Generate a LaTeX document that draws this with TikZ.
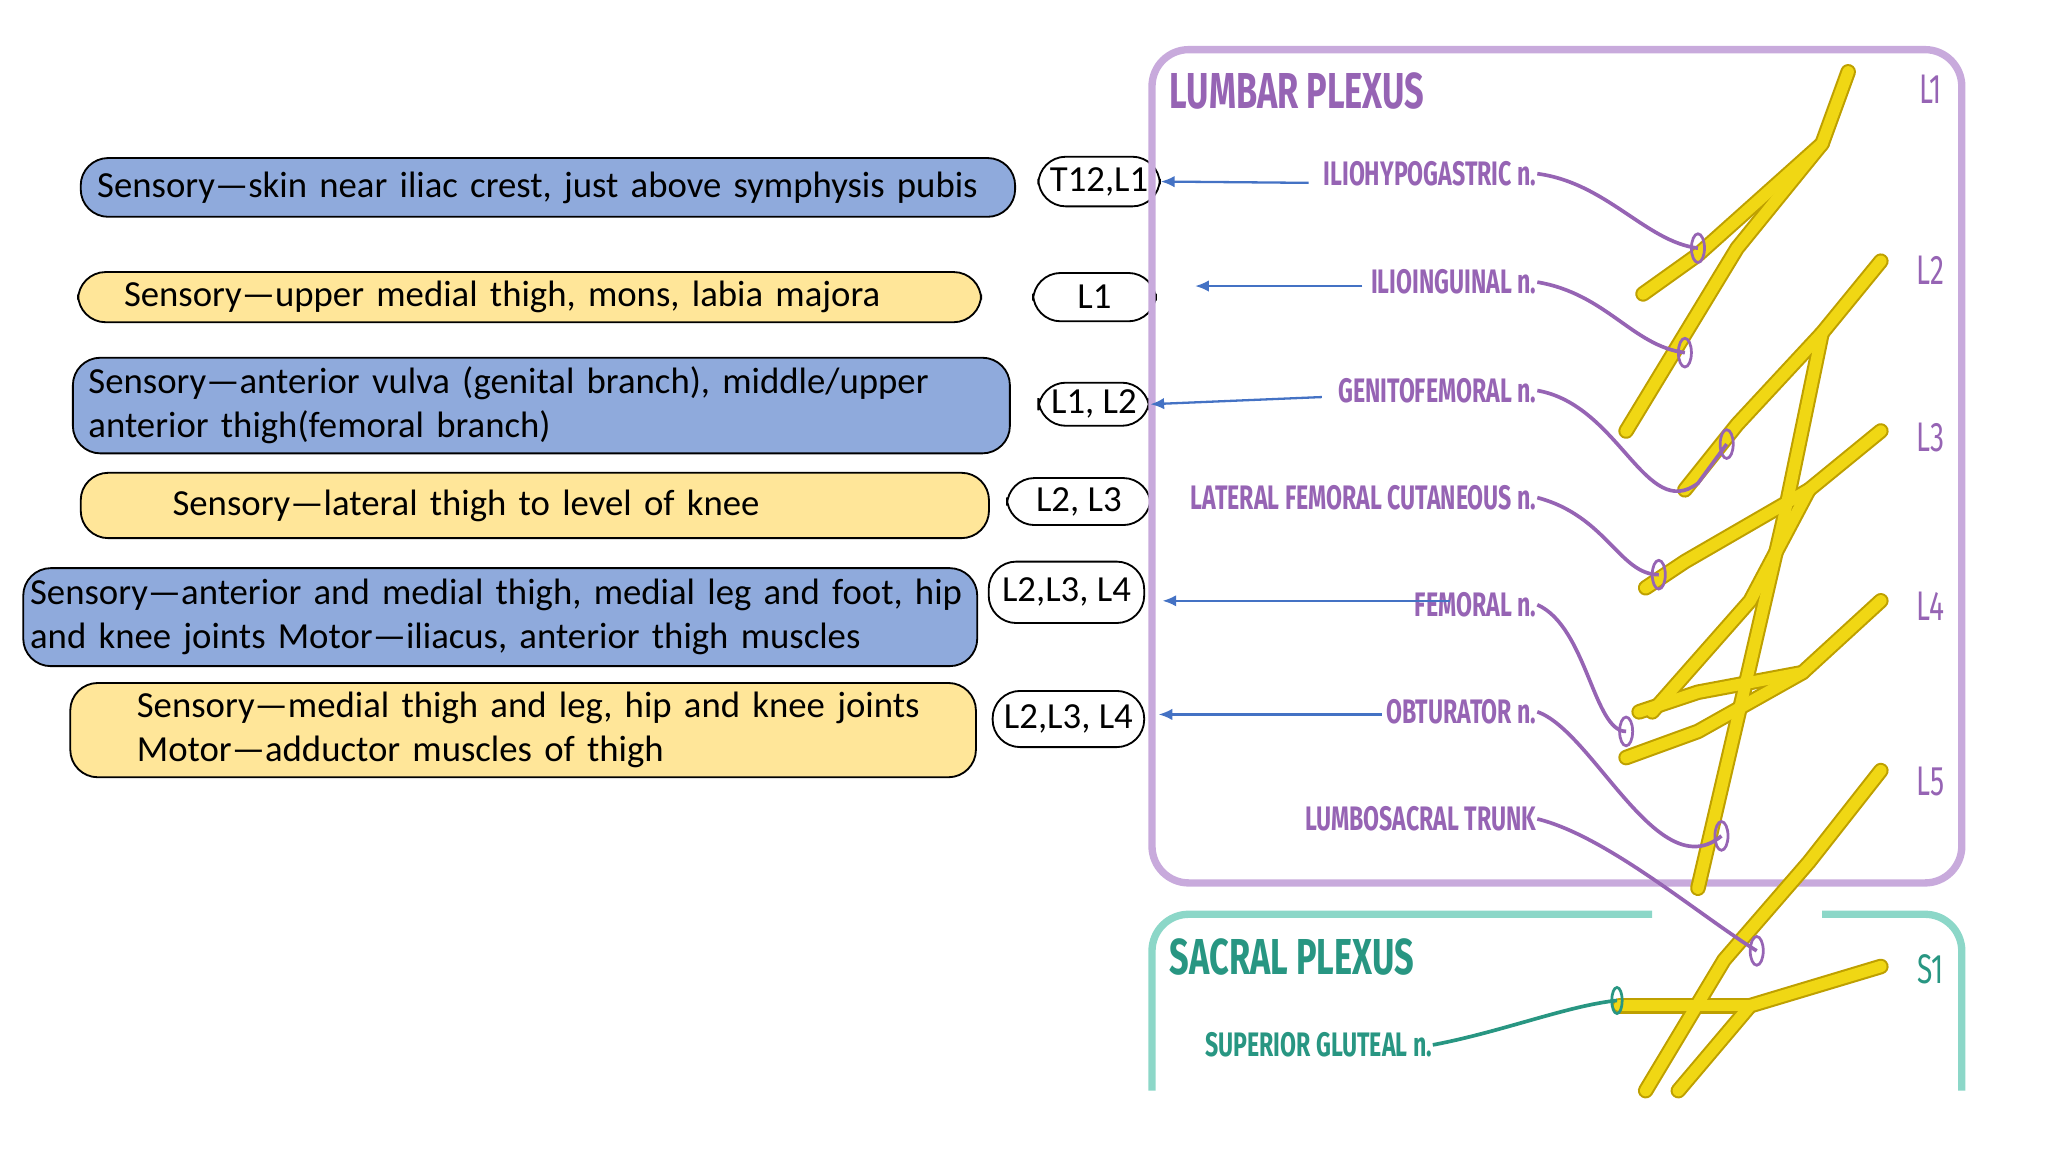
\documentclass[tikz,border=0pt]{standalone}
\usepackage{fontspec}
\setmainfont{Carlito}
\newfontfamily\lblfont[FakeStretch=0.68]{Fira Sans}
\usepackage{tikz}
\usetikzlibrary{arrows.meta}

\definecolor{boxblue}{RGB}{143,170,220}
\definecolor{boxyellow}{RGB}{255,230,153}
\definecolor{plexpurple}{RGB}{150,100,180}
\definecolor{plexframe}{RGB}{200,170,220}
\definecolor{sacteal}{RGB}{40,150,130}
\definecolor{sacframe}{RGB}{140,215,200}
\definecolor{nerve}{RGB}{240,215,20}
\definecolor{nerveedge}{RGB}{190,160,0}
\definecolor{arrowblue}{RGB}{68,114,196}

\tikzset{
  info/.style={draw=black, rounded corners=6pt, inner xsep=0pt, inner ysep=2pt, font=\fontsize{8}{9.6}\selectfont, align=left,
    execute at begin node={\hyphenpenalty=10000}},
  level/.style={draw=black, rounded corners=6pt, font=\fontsize{8}{9.6}\selectfont, inner sep=1pt},
  plexlbl/.style={text=plexpurple, font=\lblfont\bfseries\fontsize{7.4}{8}\selectfont, inner sep=0pt},
  leader/.style={draw=plexpurple, line width=0.8pt},
  point/.style={-{Latex[length=3pt,width=2.5pt]}, draw=arrowblue, line width=0.5pt},
  nerveout/.style={draw=nerveedge, line width=3.4pt, line cap=round, line join=round},
  nervein/.style={draw=nerve, line width=2.5pt, line cap=round, line join=round},
}

\begin{document}
\begin{tikzpicture}[x=0.01cm, y=-0.01cm]
\useasboundingbox (0,0) rectangle (1568,882);

% Info boxes
\node[info, fill=boxblue, minimum height=0.45cm, text width=7.15cm] (s1) at (419.5,143.5) {\hspace*{3.6pt}Sensory---skin near iliac crest, just above symphysis pubis};
\node[info, fill=boxyellow, minimum height=0.33cm, text width=6.91cm] (s2) at (405.5,227.5) {\hspace*{10pt}Sensory---upper medial thigh, mons, labia majora};
\node[info, fill=boxblue, minimum height=0.65cm, text width=7.17cm] (s3) at (414.5,310.5) {\hspace*{3.4pt}Sensory---anterior vulva (genital branch), middle/upper\\\hspace*{3.4pt}anterior thigh(femoral branch)};
\node[info, fill=boxyellow, minimum height=0.5cm, text width=6.95cm] (s4) at (409.5,387) {\hspace*{20pt}Sensory---lateral thigh to level of knee};
\node[info, fill=boxblue, minimum height=0.75cm, text width=7.3cm] (s5) at (383,472.5) {\hspace*{1.5pt}Sensory---anterior and medial thigh, medial leg and foot, hip\\\hspace*{1.5pt}and knee joints Motor---iliacus, anterior thigh muscles};
\node[info, fill=boxyellow, minimum height=0.68cm, text width=6.93cm] (s6) at (400.5,559) {\hspace*{14.5pt}Sensory---medial thigh and leg, hip and knee joints\\\hspace*{14.5pt}Motor---adductor muscles of thigh};

% Root levels
\node[level, minimum width=0.93cm, minimum height=0.38cm] (r1) at (841.5,139) {T12,L1};
\node[level, minimum width=0.94cm, minimum height=0.37cm] (r2) at (838,227.5) {L1};
\node[level, minimum width=0.85cm, minimum height=0.33cm] (r3) at (837.5,309.5) {L1, L2};
\node[level, minimum width=1.1cm, minimum height=0.36cm] (r4) at (826,384) {L2, L3};
\node[level, minimum width=1.19cm, minimum height=0.47cm] (r5) at (816.5,453.5) {L2,L3, L4};
\node[level, minimum width=1.16cm, minimum height=0.43cm] (r6) at (818,550.5) {L2,L3, L4};

% Frames
\draw[plexframe, line width=1.6pt, rounded corners=8pt] (882,38) rectangle (1502,676);
\draw[sacframe, line width=1.6pt, rounded corners=8pt] (882,835) -- (882,700) -- (1265,700);
\draw[sacframe, line width=1.6pt, rounded corners=8pt] (1395,700) -- (1502,700) -- (1502,835);

% Nerves
\foreach \s in {nerveout, nervein}{
  \draw[\s] (1415,55) -- (1395,110) -- (1300,195) -- (1258,225);
  \draw[\s] (1395,110) -- (1330,190) -- (1245,330);
  \draw[\s] (1440,200) -- (1395,255) -- (1330,325) -- (1290,375);
  \draw[\s] (1395,255) -- (1365,400) -- (1335,530) -- (1300,680);
  \draw[\s] (1440,330) -- (1385,375) -- (1290,430) -- (1260,450);
  \draw[\s] (1385,375) -- (1340,460) -- (1265,545);
  \draw[\s] (1440,460) -- (1380,515) -- (1300,530) -- (1255,545);
  \draw[\s] (1380,515) -- (1300,560) -- (1245,580);
  \draw[\s] (1440,590) -- (1385,660) -- (1320,735) -- (1260,835);
  \draw[\s] (1440,740) -- (1340,770) -- (1285,835);
  \draw[\s] (1340,770) -- (1240,770);
}

% Nerve labels
\node[plexlbl, anchor=west] (lp) at (895,70) {\fontsize{11}{12}\selectfont LUMBAR PLEXUS};
\node[plexlbl, anchor=west, text=sacteal] (sp) at (895,733) {\fontsize{11}{12}\selectfont SACRAL PLEXUS};
\foreach \t/\y in {L1/68, L2/207, L3/335, L4/464, L5/598}
  \node[plexlbl, font=\lblfont\fontsize{9}{10}\selectfont] at (1478,\y) {\t};
\node[plexlbl, text=sacteal, font=\lblfont\fontsize{9}{10}\selectfont] at (1478,742) {S1};

\node[plexlbl, anchor=east] (ih) at (1177,133) {ILIOHYPOGASTRIC n.};
\node[plexlbl, anchor=east] (ii) at (1177,216) {ILIOINGUINAL n.};
\node[plexlbl, anchor=east] (gf) at (1177,299) {GENITOFEMORAL n.};
\node[plexlbl, anchor=east] (lf) at (1177,381) {LATERAL FEMORAL CUTANEOUS n.};
\node[plexlbl, anchor=east] (fe) at (1177,463) {FEMORAL n.};
\node[plexlbl, anchor=east] (ob) at (1177,545) {OBTURATOR n.};
\node[plexlbl, anchor=east] (ls) at (1177,627) {LUMBOSACRAL TRUNK};
\node[plexlbl, anchor=east, text=sacteal] (sg) at (1097,800) {SUPERIOR GLUTEAL n.};

% Leaders and rings
\coordinate (p1) at (1300,190);
\coordinate (p2) at (1290,270);
\coordinate (p3) at (1322,340);
\coordinate (p4) at (1270,440);
\coordinate (p5) at (1245,560);
\coordinate (p6) at (1318,640);
\coordinate (p7) at (1345,728);
\coordinate (p8) at (1238,766);
\draw[leader] (ih.east) .. controls (1230,140) and (1260,185) .. (p1);
\draw[leader] (ii.east) .. controls (1230,225) and (1250,265) .. (p2);
\draw[leader] (gf.east) .. controls (1240,310) and (1260,400) .. (1300,370) -- (p3);
\draw[leader] (lf.east) .. controls (1230,395) and (1240,440) .. (p4);
\draw[leader] (fe.east) .. controls (1215,480) and (1220,560) .. (p5);
\draw[leader] (ob.east) .. controls (1220,560) and (1270,680) .. (p6);
\draw[leader] (ls.east) .. controls (1230,640) and (1300,700) .. (p7);
\draw[draw=sacteal, line width=0.8pt] (sg.east) .. controls (1150,790) and (1200,770) .. (p8);
\foreach \p in {p1,p2,p3,p4,p5,p6,p7}
  \draw[plexpurple, line width=0.6pt] (\p) ellipse (5 and 11);
\draw[sacteal, line width=0.6pt] (p8) ellipse (4 and 10);

% Arrows
\draw[point] (1002,140) -- (r1.east);
\draw[point] (1043,219) -- (915,219);
\draw[point] (1012,304) -- (r3.east);
\draw[point] (1110,460) -- (890,460);
\draw[point] (1058,547) -- (887,547);
\end{tikzpicture}
\end{document}
